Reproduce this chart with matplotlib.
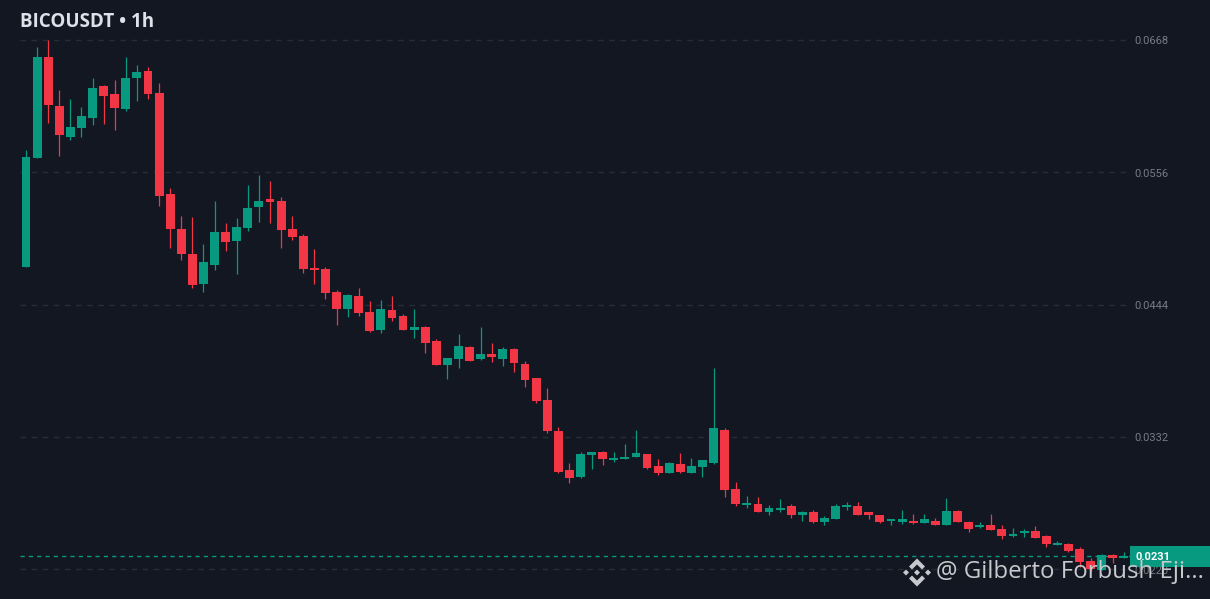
import matplotlib
matplotlib.use("Agg")
import matplotlib.pyplot as plt
from matplotlib.patches import Polygon, Rectangle

# candles, oldest first
opens = [0.04763, 0.05685, 0.06540, 0.06126, 0.05863, 0.05939, 0.06024, 0.06295, 0.06227, 0.06100,
         0.06363, 0.06422, 0.06236, 0.05381, 0.05084, 0.04873, 0.04619, 0.04780, 0.05059, 0.04983,
         0.05093, 0.05271, 0.05338, 0.05321, 0.05084, 0.05025, 0.04757, 0.04746, 0.04551, 0.04407,
         0.04517, 0.04382, 0.04229, 0.04399, 0.04348, 0.04229, 0.04255, 0.04136, 0.03933, 0.03984,
         0.04085, 0.03984, 0.04026, 0.03984, 0.04068, 0.03941, 0.03823, 0.03637, 0.03374, 0.03044,
         0.02985, 0.03171, 0.03196, 0.03129, 0.03137, 0.03154, 0.03180, 0.03078, 0.03019, 0.03095,
         0.03019, 0.03070, 0.03103, 0.03383, 0.02883, 0.02748, 0.02756, 0.02689, 0.02705, 0.02739,
         0.02663, 0.02689, 0.02604, 0.02629, 0.02731, 0.02739, 0.02689, 0.02663, 0.02612, 0.02604,
         0.02612, 0.02595, 0.02612, 0.02579, 0.02697, 0.02604, 0.02562, 0.02579, 0.02545, 0.02485,
         0.02511, 0.02528, 0.02485, 0.02409, 0.02418, 0.02375, 0.02274, 0.02198, 0.02325, 0.02299]
highs = [0.05753, 0.06625, 0.06684, 0.06261, 0.06185, 0.06117, 0.06363, 0.06303, 0.06346, 0.06540,
         0.06473, 0.06456, 0.06320, 0.05431, 0.05194, 0.05186, 0.04957, 0.05321, 0.05135, 0.05177,
         0.05457, 0.05541, 0.05491, 0.05355, 0.05194, 0.05042, 0.04915, 0.04763, 0.04568, 0.04534,
         0.04585, 0.04475, 0.04483, 0.04517, 0.04365, 0.04407, 0.04263, 0.04153, 0.03992, 0.04195,
         0.04094, 0.04255, 0.04119, 0.04085, 0.04077, 0.03967, 0.03823, 0.03738, 0.03408, 0.03103,
         0.03196, 0.03196, 0.03205, 0.03196, 0.03264, 0.03383, 0.03180, 0.03137, 0.03112, 0.03188,
         0.03146, 0.03129, 0.03908, 0.03400, 0.02943, 0.02824, 0.02816, 0.02748, 0.02799, 0.02756,
         0.02697, 0.02705, 0.02655, 0.02756, 0.02773, 0.02773, 0.02689, 0.02663, 0.02629, 0.02705,
         0.02672, 0.02672, 0.02638, 0.02807, 0.02705, 0.02612, 0.02604, 0.02672, 0.02579, 0.02553,
         0.02545, 0.02570, 0.02494, 0.02443, 0.02426, 0.02392, 0.02299, 0.02333, 0.02333, 0.02350]
lows = [0.04763, 0.05685, 0.05982, 0.05702, 0.05838, 0.05863, 0.05965, 0.05973, 0.05922, 0.06083,
        0.06168, 0.06185, 0.05279, 0.04923, 0.04822, 0.04585, 0.04551, 0.04737, 0.04898, 0.04703,
        0.05067, 0.05144, 0.05135, 0.04923, 0.04991, 0.04712, 0.04619, 0.04492, 0.04272, 0.04339,
        0.04348, 0.04212, 0.04204, 0.04305, 0.04229, 0.04162, 0.04035, 0.03933, 0.03815, 0.03908,
        0.03967, 0.03975, 0.03958, 0.03925, 0.03874, 0.03747, 0.03611, 0.03357, 0.03019, 0.02934,
        0.02976, 0.03053, 0.03086, 0.03112, 0.03137, 0.03154, 0.03053, 0.03002, 0.03019, 0.03019,
        0.03019, 0.02985, 0.03095, 0.02816, 0.02739, 0.02722, 0.02689, 0.02663, 0.02689, 0.02638,
        0.02612, 0.02595, 0.02579, 0.02629, 0.02705, 0.02663, 0.02629, 0.02595, 0.02579, 0.02587,
        0.02587, 0.02595, 0.02579, 0.02579, 0.02604, 0.02519, 0.02553, 0.02536, 0.02460, 0.02477,
        0.02477, 0.02468, 0.02392, 0.02409, 0.02350, 0.02223, 0.02192, 0.02198, 0.02257, 0.02299]
closes = [0.05694, 0.06540, 0.06134, 0.05880, 0.05948, 0.06041, 0.06278, 0.06210, 0.06109, 0.06363,
          0.06413, 0.06227, 0.05364, 0.05084, 0.04873, 0.04610, 0.04805, 0.05059, 0.04974, 0.05101,
          0.05262, 0.05321, 0.05313, 0.05076, 0.05017, 0.04746, 0.04737, 0.04543, 0.04407, 0.04526,
          0.04373, 0.04221, 0.04407, 0.04331, 0.04229, 0.04255, 0.04119, 0.03933, 0.03992, 0.04094,
          0.03967, 0.04026, 0.04001, 0.04068, 0.03950, 0.03806, 0.03628, 0.03374, 0.03027, 0.02976,
          0.03180, 0.03196, 0.03137, 0.03146, 0.03154, 0.03188, 0.03061, 0.03019, 0.03103, 0.03027,
          0.03078, 0.03129, 0.03400, 0.02875, 0.02756, 0.02765, 0.02689, 0.02722, 0.02722, 0.02663,
          0.02689, 0.02604, 0.02638, 0.02739, 0.02748, 0.02663, 0.02663, 0.02604, 0.02629, 0.02629,
          0.02595, 0.02629, 0.02579, 0.02697, 0.02604, 0.02545, 0.02579, 0.02536, 0.02485, 0.02502,
          0.02528, 0.02468, 0.02418, 0.02426, 0.02358, 0.02265, 0.02206, 0.02325, 0.02299, 0.02316]

price_ticks = [0.0668, 0.0556, 0.0444, 0.0332, 0.0220]
tick_labels = ['0.0668', '0.0556', '0.0444', '0.0332', '0.0220']
last_price = 0.0231

BG = '#131722'
UP = '#089981'
DOWN = '#F23645'
W, H = 1210, 599

fig = plt.figure(figsize=(W / 100, H / 100), dpi=100, facecolor=BG)
ax = fig.add_axes([0, 0, 1, 1], facecolor=BG)
# one candle every 11.09 px, first one centred at x=26
ax.set_xlim(-26 / 11.09, (W - 26) / 11.09)
ax.set_ylim(0.019519, 0.070229)
ax.axis('off')

grid_end = 99.3
for p, lab in zip(price_ticks, tick_labels):
    ax.hlines(p + 0.00003, -0.55, grid_end, color='#282C37', lw=1, linestyles=(0, (4, 4)), zorder=1)
    ax.text(99.93, p - 0.00008, lab, color='#787B86', fontsize=8, family='Roboto', va='center', ha='left', zorder=2)

for i in range(len(opens)):
    col = UP if closes[i] >= opens[i] else DOWN
    ax.vlines(i, lows[i], highs[i], color=col, lw=0.9, zorder=3)
    ax.bar(i, abs(closes[i] - opens[i]), bottom=min(opens[i], closes[i]), width=0.8, color=col, lw=0, zorder=4)

# last price line and tag
ax.hlines(last_price + 0.00006, -0.55, grid_end + 0.5, color=UP, lw=1, linestyles=(0, (3, 3)), zorder=2)
fig.add_artist(Rectangle((1130 / W, 1 - 567 / H), 80 / W, 21 / H, transform=fig.transFigure, color=UP, lw=0, zorder=5))
fig.text(1135 / W, 1 - 557 / H, '0.0231', color='white', fontsize=8, fontweight='bold', family='Roboto',
         va='center', ha='left', zorder=6)

fig.text(20 / W, 1 - 22 / H, 'BICOUSDT • 1h', color='#DDE1EA', fontsize=13.5, fontweight='bold', family='Open Sans',
         va='center', ha='left')

# watermark logo, offsets from its centre in px
logo_x, logo_y = 917, 572.5
logo = [[(0, -14), (8, -6), (5, -3), (0, -8), (-5, -3), (-8, -6)],
        [(0, 14), (8, 6), (5, 3), (0, 8), (-5, 3), (-8, 6)],
        [(-11, -3), (-8, 0), (-11, 3), (-14, 0)],
        [(11, -3), (14, 0), (11, 3), (8, 0)],
        [(0, -3), (3, 0), (0, 3), (-3, 0)]]
for shape in logo:
    pts = [((logo_x + dx) / W, 1 - (logo_y + dy) / H) for dx, dy in shape]
    fig.add_artist(Polygon(pts, closed=True, transform=fig.transFigure, color='#C8C9CC', lw=0, zorder=7))
fig.text(936 / W, 1 - 572 / H, '@ Gilberto Forbush Eji...', color='#C8C9CC', fontsize=17.3, family='Open Sans',
         va='center', ha='left', zorder=7)

fig.savefig('out.png', dpi=100, facecolor=BG)
